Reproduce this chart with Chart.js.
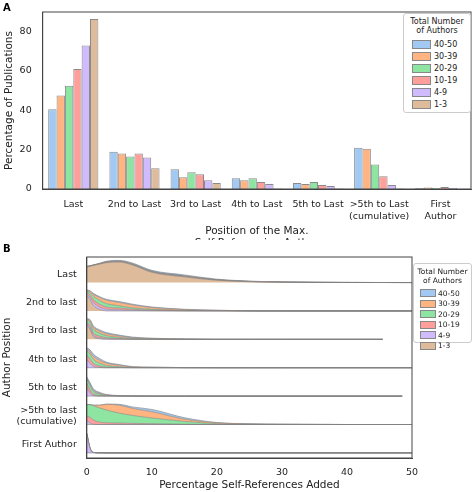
<!DOCTYPE html>
<html>
<head>
<meta charset="utf-8">
<script src="https://cdn.jsdelivr.net/npm/chart.js@4"></script>
<style>
  body { margin: 0; background: #fff; font-family: "DejaVu Sans", sans-serif; overflow: hidden; }
  #wrap { position: relative; width: 474px; height: 492px; overflow: hidden; }
  .panel { position: absolute; left: 0; width: 474px; background: #fff; }
  .letter { position: absolute; font-weight: bold; font-size: 10px; }
  .legend { position: absolute; background: #fff; border: 1px solid #ccc; border-radius: 3px;
            font-size: 8px; color: #222; padding: 3px 2px; box-sizing: border-box; white-space: nowrap; }
  .legend .title { text-align: center; line-height: 9px; margin-bottom: 3px; }
  .legend .row { display: flex; align-items: center; height: 12px; }
  .legend .sw { width: 17px; height: 7px; border: 1px solid #888; margin-right: 3px; margin-left: 6px; }
  #legB { font-size: 7.5px; }
  #legB .row { height: 10.5px; }
  #legB .sw { width: 14px; height: 6px; margin-left: 4px; margin-right: 2px; }
</style>
</head>
<body>
<div id="wrap">
  <div class="panel" style="top:0;height:250px"><canvas id="chartA"></canvas></div>
  <div class="panel" style="top:240px;height:252px"><canvas id="chartB"></canvas></div>
  <div class="letter" style="left:3px;top:2px">A</div>
  <div class="letter" style="left:3px;top:243px">B</div>
  <div class="legend" id="legA" style="left:403px;top:13px;width:68px;height:100px"></div>
  <div class="legend" id="legB" style="left:413px;top:263px;width:59px;height:80px"></div>
</div>
<script>
// Groups and colours
const groups = ['40-50', '30-39', '20-29', '10-19', '4-9', '1-3'];
const colors = ['#a1c9f4', '#ffb482', '#8de5a1', '#ff9f9b', '#d0bbff', '#debb9b'];

// Panel A data
const positionsA = [['Last'], ['2nd to Last'], ['3rd to Last'], ['4th to Last'], ['5th to Last'], ['>5th to Last', '(cumulative)'], ['First', 'Author']];
const pct4050 = [40.5, 19, 10, 5.5, 3, 21, 0.5];
const pct3039 = [47.5, 18, 6, 4.5, 2.5, 20.5, 0.7];
const pct2029 = [52.5, 16.5, 8.5, 5.5, 3.5, 12.5, 0.5];
const pct1019 = [61, 18, 7.5, 3.5, 2, 6.5, 1];
const pct49 = [73, 16, 4.5, 2.5, 1.5, 2, 0.5];
const pct13 = [86.5, 10.5, 3, 0.3, 0.2, 0.2, 0];
const yTicksA = [0, 20, 40, 60, 80];

// Panel B data: density heights (row units) per group, order 1-3, 4-9, 10-19, 20-29, 30-39, 40-50
const positionsB = ['Last', '2nd to last', '3rd to last', '4th to last', '5th to last', ['>5th to last', '(cumulative)'], 'First Author'];
const xs = [0, 0.5, 1, 2, 3, 5, 7, 10, 15, 20, 25, 30, 40, 50];
const rowMax = [50, 50, 45.5, 50, 48.5, 50, 50];
const dLast = [
  [0.55, 0.57, 0.6, 0.65, 0.7, 0.72, 0.62, 0.36, 0.2, 0.08, 0.03, 0.015, 0.003, 0],
  [0.005, 0.005, 0.005, 0.005, 0.01, 0.01, 0.01, 0.01, 0.01, 0.005, 0.003, 0, 0, 0],
  [0.005, 0.005, 0.005, 0.005, 0.01, 0.01, 0.01, 0.01, 0.01, 0.005, 0.003, 0, 0, 0],
  [0.005, 0.005, 0.005, 0.005, 0.01, 0.01, 0.01, 0.01, 0.01, 0.005, 0.003, 0, 0, 0],
  [0.005, 0.005, 0.005, 0.005, 0.01, 0.01, 0.01, 0.01, 0.01, 0.005, 0.003, 0, 0, 0],
  [0, 0, 0, 0.01, 0.01, 0.02, 0.03, 0.03, 0.03, 0.02, 0.01, 0.005, 0, 0]
];
const d2nd = [
  [0.55, 0.4, 0.2, 0.05, 0, 0, 0, 0, 0, 0, 0, 0, 0, 0],
  [0.05, 0.08, 0.1, 0.08, 0.06, 0.04, 0.02, 0.01, 0, 0, 0, 0, 0, 0],
  [0.05, 0.08, 0.1, 0.1, 0.08, 0.06, 0.04, 0.02, 0.01, 0.005, 0, 0, 0, 0],
  [0.05, 0.08, 0.12, 0.14, 0.12, 0.08, 0.05, 0.03, 0.01, 0.005, 0, 0, 0, 0],
  [0.03, 0.05, 0.07, 0.1, 0.12, 0.12, 0.1, 0.06, 0.03, 0.01, 0.005, 0, 0, 0],
  [0.01, 0.02, 0.03, 0.03, 0.03, 0.03, 0.03, 0.02, 0.01, 0.005, 0, 0, 0, 0]
];
const d3rd = [
  [0.5, 0.35, 0.1, 0.02, 0, 0, 0, 0, 0, 0, 0, 0, 0, 0],
  [0.05, 0.06, 0.05, 0.03, 0.02, 0.01, 0, 0, 0, 0, 0, 0, 0, 0],
  [0.05, 0.08, 0.08, 0.06, 0.04, 0.02, 0.01, 0.005, 0, 0, 0, 0, 0, 0],
  [0.08, 0.12, 0.14, 0.1, 0.07, 0.04, 0.02, 0.01, 0.005, 0, 0, 0, 0, 0],
  [0.03, 0.05, 0.07, 0.08, 0.07, 0.05, 0.03, 0.015, 0.005, 0, 0, 0, 0, 0],
  [0.02, 0.03, 0.04, 0.04, 0.04, 0.03, 0.02, 0.01, 0.005, 0, 0, 0, 0, 0]
];
const d4th = [
  [0, 0, 0, 0, 0, 0, 0, 0, 0, 0, 0, 0, 0, 0],
  [0.3, 0.15, 0.05, 0.01, 0, 0, 0, 0, 0, 0, 0, 0, 0, 0],
  [0.15, 0.15, 0.1, 0.05, 0.02, 0.01, 0, 0, 0, 0, 0, 0, 0, 0],
  [0.15, 0.18, 0.15, 0.1, 0.06, 0.03, 0.01, 0.005, 0, 0, 0, 0, 0, 0],
  [0.05, 0.08, 0.1, 0.1, 0.08, 0.05, 0.02, 0.01, 0.005, 0, 0, 0, 0, 0],
  [0.05, 0.07, 0.08, 0.06, 0.04, 0.02, 0.01, 0.005, 0, 0, 0, 0, 0, 0]
];
const d5th = [
  [0, 0, 0, 0, 0, 0, 0, 0, 0, 0, 0, 0, 0, 0],
  [0.3, 0.1, 0.02, 0, 0, 0, 0, 0, 0, 0, 0, 0, 0, 0],
  [0.15, 0.12, 0.05, 0.02, 0.01, 0, 0, 0, 0, 0, 0, 0, 0, 0],
  [0.15, 0.15, 0.1, 0.05, 0.02, 0.01, 0.005, 0, 0, 0, 0, 0, 0, 0],
  [0.03, 0.04, 0.04, 0.03, 0.015, 0.005, 0, 0, 0, 0, 0, 0, 0, 0],
  [0.05, 0.06, 0.05, 0.03, 0.01, 0.005, 0, 0, 0, 0, 0, 0, 0, 0]
];
const dOver5 = [
  [0, 0, 0, 0, 0, 0, 0, 0, 0, 0, 0, 0, 0, 0],
  [0.15, 0.05, 0.01, 0, 0, 0, 0, 0, 0, 0, 0, 0, 0, 0],
  [0.15, 0.2, 0.15, 0.08, 0.06, 0.05, 0.04, 0.03, 0.01, 0, 0, 0, 0, 0],
  [0.4, 0.45, 0.5, 0.5, 0.45, 0.35, 0.28, 0.2, 0.1, 0.03, 0.01, 0.005, 0, 0],
  [0, 0, 0.02, 0.1, 0.2, 0.28, 0.25, 0.22, 0.08, 0.03, 0.01, 0.005, 0, 0],
  [0, 0, 0, 0, 0.01, 0.03, 0.05, 0.08, 0.05, 0.01, 0.005, 0, 0, 0]
];
const dFirst = [
  [0, 0, 0, 0, 0, 0, 0, 0, 0, 0, 0, 0, 0, 0],
  [0.65, 0.15, 0.01, 0, 0, 0, 0, 0, 0, 0, 0, 0, 0, 0],
  [0.02, 0.01, 0.005, 0.003, 0, 0, 0, 0, 0, 0, 0, 0, 0, 0],
  [0.01, 0.005, 0.003, 0, 0, 0, 0, 0, 0, 0, 0, 0, 0, 0],
  [0.005, 0.003, 0, 0, 0, 0, 0, 0, 0, 0, 0, 0, 0, 0],
  [0.005, 0.003, 0, 0, 0, 0, 0, 0, 0, 0, 0, 0, 0, 0]
];
const rowsB = [dLast, d2nd, d3rd, d4th, d5th, dOver5, dFirst];
const xTicksB = [0, 10, 20, 30, 40, 50];

const axisColor = '#444';
const tickFont = { family: 'DejaVu Sans', size: 9.5 };
const titleFont = { family: 'DejaVu Sans', size: 10.5 };

// draws the full frame around the plot area
const framePlugin = {
  id: 'frame',
  afterDraw(chart) {
    const a = chart.chartArea, ctx = chart.ctx;
    ctx.save();
    ctx.strokeStyle = axisColor;
    ctx.lineWidth = 1;
    ctx.strokeRect(a.left, a.top, a.right - a.left, a.bottom - a.top);
    ctx.restore();
  }
};

function buildLegend(id) {
  const el = document.getElementById(id);
  let html = '<div class="title">Total Number<br>of Authors</div>';
  groups.forEach((g, i) => {
    html += `<div class="row"><div class="sw" style="background:${colors[i]}"></div>${g}</div>`;
  });
  el.innerHTML = html;
}
buildLegend('legA');
buildLegend('legB');

// Panel A
const seriesA = [pct4050, pct3039, pct2029, pct1019, pct49, pct13];
new Chart(document.getElementById('chartA'), {
  type: 'bar',
  data: {
    labels: positionsA,
    datasets: seriesA.map((s, i) => ({
      label: groups[i], data: s, backgroundColor: colors[i],
      borderColor: '#8a8a8a', borderWidth: 1,
      barPercentage: 1, categoryPercentage: 0.82
    }))
  },
  options: {
    responsive: true, maintainAspectRatio: false, animation: false,
    layout: { padding: { left: 2, right: 3, top: 12, bottom: 0 } },
    plugins: { legend: { display: false }, tooltip: { enabled: false } },
    scales: {
      x: {
        grid: { display: false }, border: { color: axisColor },
        ticks: { color: '#222', font: tickFont, maxRotation: 0, autoSkip: false, padding: 2 },
        title: { display: true, text: ['Position of the Max.', 'Self-Referencing Author'], color: '#222', font: titleFont, padding: { top: 1, bottom: 0 } }
      },
      y: {
        min: 0, max: 90,
        afterBuildTicks: axis => { axis.ticks = yTicksA.map(v => ({ value: v })); },
        grid: { display: false }, border: { color: axisColor },
        ticks: { color: '#222', font: tickFont },
        title: { display: true, text: 'Percentage of Publications', color: '#222', font: titleFont, padding: 1 }
      }
    }
  },
  plugins: [framePlugin]
});

// Panel B: stacked densities per row, each row offset by its baseline
const datasetsB = [];
const nRows = rowsB.length;
rowsB.forEach((row, r) => {
  const base = nRows - 1 - r;
  const idx = xs.map((x, k) => k).filter(k => xs[k] <= rowMax[r]);
  const cum = xs.map(() => 0);
  const order = [5, 4, 3, 2, 1, 0]; // colour index for 1-3, 4-9, ... 40-50
  row.forEach((layer, li) => {
    layer.forEach((v, k) => { cum[k] += v; });
    const pts = idx.map(k => ({ x: xs[k], y: base + cum[k] }));
    if (xs[idx[idx.length - 1]] < rowMax[r]) pts.push({ x: rowMax[r], y: base });
    datasetsB.push({
      data: pts,
      backgroundColor: colors[order[li]],
      borderColor: '#808080', borderWidth: 0.6,
      pointRadius: 0, cubicInterpolationMode: 'monotone',
      fill: li === 0 ? { value: base } : '-1'
    });
  });
});

new Chart(document.getElementById('chartB'), {
  type: 'line',
  data: { datasets: datasetsB },
  options: {
    responsive: true, maintainAspectRatio: false, animation: false,
    layout: { padding: { left: 0, right: 62, top: 17, bottom: 0 } },
    plugins: { legend: { display: false }, tooltip: { enabled: false } },
    scales: {
      x: {
        type: 'linear', min: 0, max: 50,
        afterBuildTicks: axis => { axis.ticks = xTicksB.map(v => ({ value: v })); },
        grid: { display: false }, border: { color: axisColor },
        ticks: { color: '#222', font: tickFont, padding: 1 },
        title: { display: true, text: 'Percentage Self-References Added', color: '#222', font: titleFont, padding: { top: 0, bottom: 0 } }
      },
      y: {
        type: 'linear', min: -0.18, max: 6.9,
        afterBuildTicks: axis => { axis.ticks = positionsB.map((p, i) => ({ value: nRows - 1 - i + 0.3 })); },
        grid: { display: false }, border: { color: axisColor },
        ticks: {
          color: '#222', font: tickFont, padding: 2,
          callback: (v, i) => positionsB[i]
        },
        title: { display: true, text: 'Author Position', color: '#222', font: titleFont, padding: 1 }
      }
    }
  },
  plugins: [framePlugin]
});
</script>
</body>
</html>
